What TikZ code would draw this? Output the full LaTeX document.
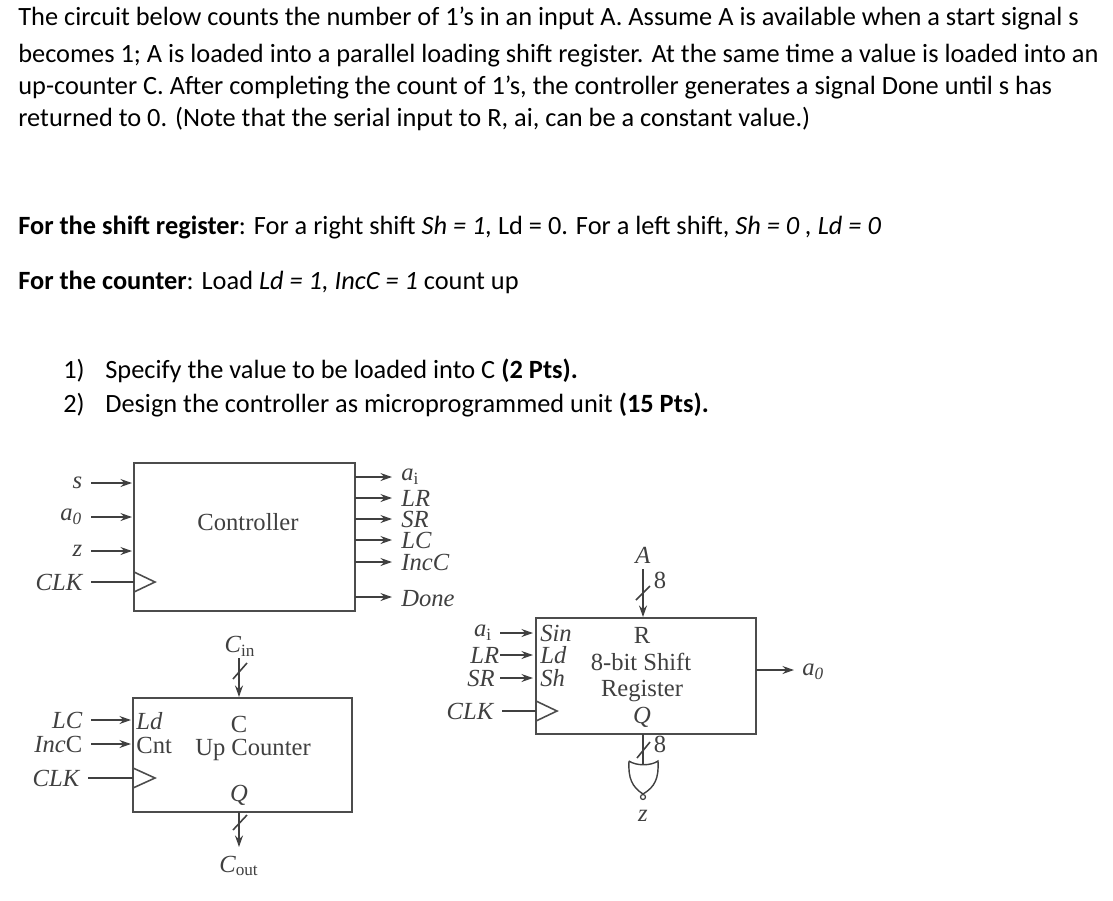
\documentclass[tikz,border=0pt]{standalone}
\usepackage{fontspec}
\setmainfont{Carlito}
\newfontfamily\figfont{Liberation Serif}
\usetikzlibrary{arrows.meta}
\tikzset{
  para/.style={anchor=base west,inner sep=0pt,font=\fontsize{15}{18}\selectfont},
  blockbox/.style={draw=black!70,line width=1.1pt},
  clocktip/.style={draw=black!70,line width=.9pt},
  inlabel/.style={anchor=east,inner sep=0pt,outer sep=5pt,text=black!75,font=\figfont\itshape\fontsize{14}{14}\selectfont},
  outlabel/.style={anchor=west,inner sep=0pt,text=black!75,font=\figfont\itshape\fontsize{14}{14}\selectfont},
  boxtext/.style={inner sep=0pt,text=black!75,font=\figfont\fontsize{14}{14}\selectfont},
  wire/.style={draw=black!75,line width=.9pt}
}
\begin{document}
\begin{tikzpicture}[x=.02cm,y=-.02cm,>={Stealth[length=6.5pt,width=4.5pt]}]
                \useasboundingbox (0,0) rectangle (1113,900);

                % question text
                \node[para] (line1) at (18,25) {The circuit below counts the number of 1’s in an input A. Assume A is available when a start signal s};
                \node[para] (line2) at (18,62) {becomes 1; A is loaded into a parallel loading shift register. At the same time a value is loaded into an};
                \node[para] (line3) at (18,94) {up-counter C. After completing the count of 1’s, the controller generates a signal Done until s has};
                \node[para] (line4) at (18,126) {returned to 0. (Note that the serial input to R, ai, can be a constant value.)};
                \node[para] (shiftnote) at (18,234) {\textbf{For the shift register}: For a right shift \textit{Sh = 1,} Ld = 0. For a left shift, \textit{Sh = 0 , Ld = 0}};
                \node[para] (countnote) at (18,289) {\textbf{For the counter}: Load \textit{Ld = 1, IncC = 1} count up};
                \node[para] (num1) at (63,378) {1)};
                \node[para] (item1) at (105,378) {Specify the value to be loaded into C \textbf{(2 Pts).}};
                \node[para] (num2) at (63,412) {2)};
                \node[para] (item2) at (105,412) {Design the controller as microprogrammed unit \textbf{(15 Pts).}};

                % controller
                \draw[blockbox] (134,463) rectangle (355,611);
                \node[boxtext] (ctrl) at (248,522) {Controller};
                \draw[clocktip] (134,572) -- (155,582) -- (134,592);

                \node[inlabel] (s) at (91,483) {s};
                \node[inlabel] (a0) at (91,517) {a\textsubscript{0}};
                \node[inlabel] (z) at (91,551) {z};
                \node[inlabel] (clk1) at (91,582) {CLK};
                \coordinate (Cs) at (132,483);
                \coordinate (Ca) at (132,517);
                \coordinate (Cz) at (132,551);
                \coordinate (Cc) at (134,582);
                \draw[wire,->] (s) to (Cs); \draw[wire,->] (a0) to (Ca); \draw[wire,->] (z) to (Cz); \draw[wire] (clk1) to (Cc);

                \node[outlabel] (ai) at (401,477) {a\textsubscript{\upshape i}};
                \node[outlabel] (LR) at (401,498) {LR};
                \node[outlabel] (SR) at (401,519) {SR};
                \node[outlabel] (LC) at (401,540) {LC};
                \node[outlabel] (IncC) at (401,562) {IncC};
                \node[outlabel] (Done) at (401,599) {Done};
                \coordinate (Oa) at (355,477); \coordinate (Ea) at (392,477);
                \coordinate (Ob) at (355,498); \coordinate (Eb) at (392,498);
                \coordinate (Oc) at (355,519); \coordinate (Ec) at (392,519);
                \coordinate (Od) at (355,540); \coordinate (Ed) at (392,540);
                \coordinate (Oe) at (355,562); \coordinate (Ee) at (392,562);
                \coordinate (Of) at (355,597); \coordinate (Ef) at (392,597);
                \draw[wire,->] (Oa) to (Ea); \draw[wire,->] (Ob) to (Eb); \draw[wire,->] (Oc) to (Ec);
                \draw[wire,->] (Od) to (Ed); \draw[wire,->] (Oe) to (Ee); \draw[wire,->] (Of) to (Ef);

                % up counter
                \draw[blockbox] (133,698) rectangle (352,812);
                \node[boxtext] at (239,724) {C};
                \node[boxtext] at (253,750) {Up Counter};
                \node[outlabel,anchor=center] at (239,795) {Q};
                \node[outlabel] at (136,721) {Ld};
                \node[boxtext,anchor=west] at (136,745) {Cnt};
                \draw[clocktip] (133,768) -- (155,778) -- (133,788);

                \node[inlabel] (LC2) at (91,720) {LC};
                \node[inlabel] (IncC2) at (91,744) {Inc{\upshape C}};
                \node[inlabel] (clk2) at (88,778) {CLK};
                \coordinate (CL) at (131,720);
                \coordinate (CI) at (131,744);
                \coordinate (CK) at (133,778);
                \draw[wire,->] (LC2) to (CL); \draw[wire,->] (IncC2) to (CI); \draw[wire] (clk2) to (CK);

                \node[outlabel,anchor=center] (Cin) at (240,646) {C\textsubscript{\upshape in}};
                \node[outlabel,anchor=center] (Cout) at (239,866) {C\textsubscript{\upshape out}};
                \coordinate (Ti) at (239,658); \coordinate (Bi) at (239,697);
                \coordinate (To) at (239,812); \coordinate (Bo) at (239,847);
                \draw[wire,line width=1.2pt,->] (Ti) to (Bi); \draw[wire,line width=1.2pt,->] (To) to (Bo);
                \draw[wire] (233,679) -- (247,663); \draw[wire] (233,830) -- (247,815);

                % shift register
                \draw[blockbox] (536,618) rectangle (756,734);
                \node[boxtext] at (642,635) {R};
                \node[boxtext] at (641,662) {8-bit Shift};
                \node[boxtext] at (642,691) {Register};
                \node[outlabel,anchor=center] at (642,717) {Q};
                \node[outlabel] at (540,633) {Sin};
                \node[outlabel] at (540,655) {Ld};
                \node[outlabel] at (540,678) {Sh};
                \draw[clocktip] (536,701) -- (557,711) -- (536,721);

                \node[inlabel,outer sep=4.5pt] (ai2) at (500,633) {a\textsubscript{\upshape i}};
                \node[inlabel,outer sep=.5pt] (LR2) at (500,655) {LR};
                \node[inlabel,outer sep=3pt] (SR2) at (500,678) {SR};
                \node[inlabel,outer sep=5pt] (clk3) at (502,711) {CLK};
                \coordinate (Ra) at (533,633);
                \coordinate (Rl) at (533,655);
                \coordinate (Rs) at (533,678);
                \coordinate (Rc) at (536,711);
                \draw[wire,->] (ai2) to (Ra); \draw[wire,->] (LR2) to (Rl); \draw[wire,->] (SR2) to (Rs); \draw[wire] (clk3) to (Rc);

                \node[outlabel,anchor=center] (A) at (643,555) {A};
                \node[boxtext] (eight1) at (660,580) {8};
                \coordinate (Ta) at (643,569); \coordinate (Ba) at (643,617);
                \draw[wire,line width=1.2pt,->] (Ta) to (Ba);
                \draw[wire] (636,600) -- (650,586);

                \coordinate (Rout) at (756,670); \coordinate (Rend) at (794,670);
                \draw[wire,->] (Rout) to (Rend);
                \node[outlabel] (a02) at (802,672) {a\textsubscript{0}};

                % nor gate
                \coordinate (Qb) at (643,734); \coordinate (Gi) at (643,764);
                \draw[wire,line width=1.2pt] (Qb) to (Gi);
                \node[boxtext] (eight2) at (660,744) {8};
                \draw[wire] (637,758) -- (650,742);
                \draw[wire,line width=.8pt] (629,761) .. controls (636,766) and (651,766) .. (658,761)
                    .. controls (659,778) and (655,787) .. (643,794)
                    .. controls (632,787) and (628,778) .. (629,761);
                \draw[wire,line width=.7pt] (643,797) circle (2.5);
                \node[outlabel,anchor=center] (z2) at (643,816) {z};
\end{tikzpicture}
\end{document}
